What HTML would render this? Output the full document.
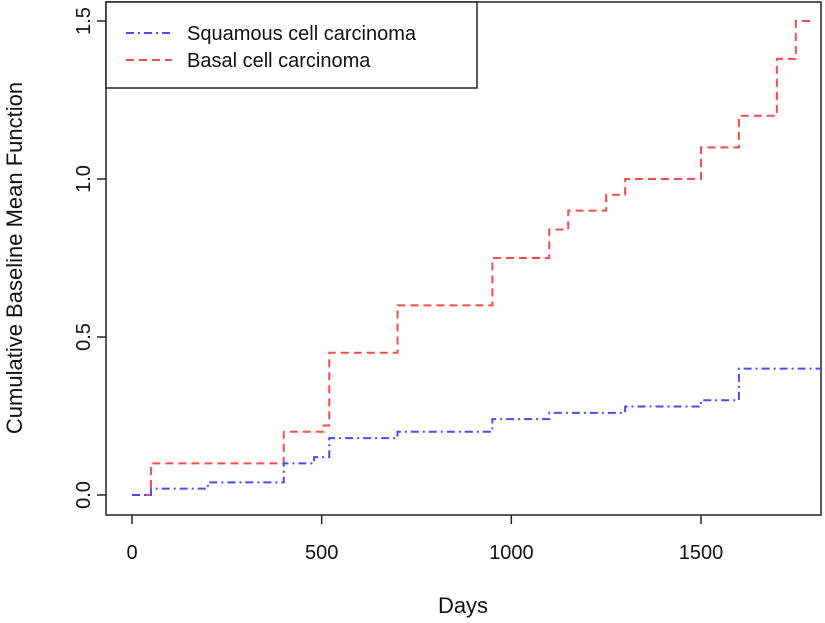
<!DOCTYPE html>
<html><head><meta charset="utf-8"><style>
html,body{margin:0;padding:0;background:#fff;}
svg{display:block;font-family:"Liberation Sans",Arial,sans-serif;}
</style></head><body>
<svg id="chart" width="825" height="623">
<rect x="106" y="2" width="715" height="513" fill="none" stroke="#222" stroke-width="1.5"/>
<g id="axes"></g>
<g id="series"></g>
<g>
<rect x="106" y="2" width="371" height="86" fill="#fff" stroke="#222" stroke-width="1.5"/>
<line x1="126" y1="33" x2="172" y2="33" stroke="#4a4aff" stroke-width="2" stroke-dasharray="8,4,2,4"/>
<text x="187" y="40" font-size="20" fill="#111">Squamous cell carcinoma</text>
<line x1="126" y1="60" x2="172" y2="60" stroke="#ff4a4a" stroke-width="2" stroke-dasharray="8,5"/>
<text x="187" y="67" font-size="20" fill="#111">Basal cell carcinoma</text>
</g>
<text x="463" y="613" font-size="22" text-anchor="middle" fill="#111">Days</text>
<text transform="translate(22,258) rotate(-90)" font-size="22" text-anchor="middle" fill="#111">Cumulative Baseline Mean Function</text>
</svg>
<script>
const xTicks=[0,500,1000,1500];
const yTicks=[0,0.5,1.0,1.5];
const yTickLabels=["0.0","0.5","1.0","1.5"];
const basalDays=[0,50,400,505,520,700,950,1100,1150,1250,1300,1500,1600,1700,1750,1790];
const basalVals=[0,0.1,0.2,0.22,0.45,0.6,0.75,0.84,0.9,0.95,1.0,1.1,1.2,1.38,1.5,1.5];
const squamDays=[0,50,200,400,480,520,700,950,1100,1300,1500,1600,1815];
const squamVals=[0,0.02,0.04,0.1,0.12,0.18,0.2,0.24,0.26,0.28,0.3,0.4,0.4];
const NS="http://www.w3.org/2000/svg";
const xs=d=>132+d*(701-132)/1500;
const ys=v=>495-v*(495-21)/1.5;
const axes=document.getElementById('axes'),ser=document.getElementById('series');
function mk(t,a,p){const e=document.createElementNS(NS,t);for(const k in a)e.setAttribute(k,a[k]);p.appendChild(e);return e;}
xTicks.forEach(t=>{
 const l=mk('line',{x1:xs(t),x2:xs(t),y1:515,y2:524,stroke:'#222','stroke-width':1.5},axes);
 
 
 const tx=mk('text',{x:xs(t),y:559,'font-size':20,'text-anchor':'middle',fill:'#111'},axes);tx.textContent=t;
 
 
});
yTicks.forEach((t,i)=>{
 const l=mk('line',{x1:97,x2:106,y1:ys(t),y2:ys(t),stroke:'#222','stroke-width':1.5},axes);
 
 
 const tx=mk('text',{transform:`translate(${90},${ys(t)}) rotate(-90)`,'font-size':20,'text-anchor':'middle',fill:'#111'},axes);tx.textContent=yTickLabels[i];
 
 
});
function step(days,vals){let d=`M${xs(days[0])},${ys(vals[0])}`;for(let i=1;i<days.length;i++){d+=`H${xs(days[i])}V${ys(vals[i])}`;}return d;}
const b=mk('path',{d:step(basalDays,basalVals),fill:'none',stroke:'#ff4a4a','stroke-width':2,'stroke-dasharray':'8,5'},ser);


const s=mk('path',{d:step(squamDays,squamVals),fill:'none',stroke:'#4a4aff','stroke-width':2,'stroke-dasharray':'8,4,2,4'},ser);


</script>
</body></html>
